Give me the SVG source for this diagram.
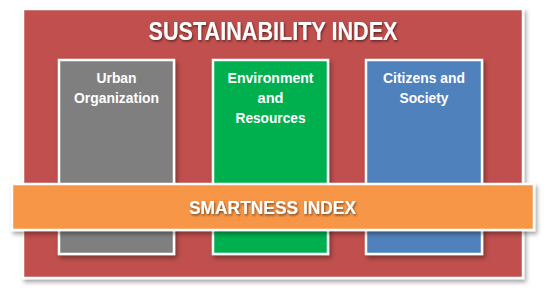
<svg xmlns="http://www.w3.org/2000/svg" width="550" height="293" viewBox="0 0 550 293">
<defs>
<filter id="sh" x="-10%" y="-10%" width="130%" height="130%">
<feDropShadow dx="2" dy="3" stdDeviation="2" flood-color="#000" flood-opacity="0.35"/>
</filter>
<filter id="ts" x="-10%" y="-30%" width="120%" height="160%">
<feDropShadow dx="1" dy="1.5" stdDeviation="0.8" flood-color="#000" flood-opacity="0.5"/>
</filter>
</defs>
<style>
.box{stroke:#fff;stroke-width:2.5}
.t{font-family:"Liberation Sans",Arial,sans-serif;font-weight:bold;fill:#fff;text-anchor:middle}
.lbl{font-size:15px}
</style>
<rect width="550" height="293" fill="#fff"/>
<g id="sustainability">
<rect class="box" x="23" y="9" width="500" height="269" fill="#C0504D" stroke-width="1.5" filter="url(#sh)"/>
<text class="t" x="273" y="40" font-size="25" textLength="249" lengthAdjust="spacingAndGlyphs" filter="url(#ts)">SUSTAINABILITY INDEX</text>
</g>
<g id="urban">
<rect class="box" x="59" y="60" width="115" height="194" fill="#7F7F7F" filter="url(#sh)"/>
<text class="t lbl" x="116.5" y="83" textLength="40" lengthAdjust="spacingAndGlyphs">Urban</text>
<text class="t lbl" x="116.5" y="103" textLength="85" lengthAdjust="spacingAndGlyphs">Organization</text>
</g>
<g id="environment">
<rect class="box" x="213" y="60" width="115" height="194" fill="#00B050" filter="url(#sh)"/>
<text class="t lbl" x="270.5" y="83" textLength="86" lengthAdjust="spacingAndGlyphs">Environment</text>
<text class="t lbl" x="270.5" y="103" textLength="26" lengthAdjust="spacingAndGlyphs">and</text>
<text class="t lbl" x="270.5" y="123" textLength="70" lengthAdjust="spacingAndGlyphs">Resources</text>
</g>
<g id="citizens">
<rect class="box" x="366" y="60" width="116" height="194" fill="#4F81BD" filter="url(#sh)"/>
<text class="t lbl" x="424" y="83" textLength="82" lengthAdjust="spacingAndGlyphs">Citizens and</text>
<text class="t lbl" x="424" y="103" textLength="49" lengthAdjust="spacingAndGlyphs">Society</text>
</g>
<g id="smartness">
<rect class="box" x="12" y="184" width="522" height="46" fill="#F79646" stroke-width="1.5" filter="url(#sh)"/>
<text class="t" x="272.5" y="214" font-size="19" textLength="167" lengthAdjust="spacingAndGlyphs" filter="url(#ts)">SMARTNESS INDEX</text>
</g>
<g id="connectors"/>
</svg>
